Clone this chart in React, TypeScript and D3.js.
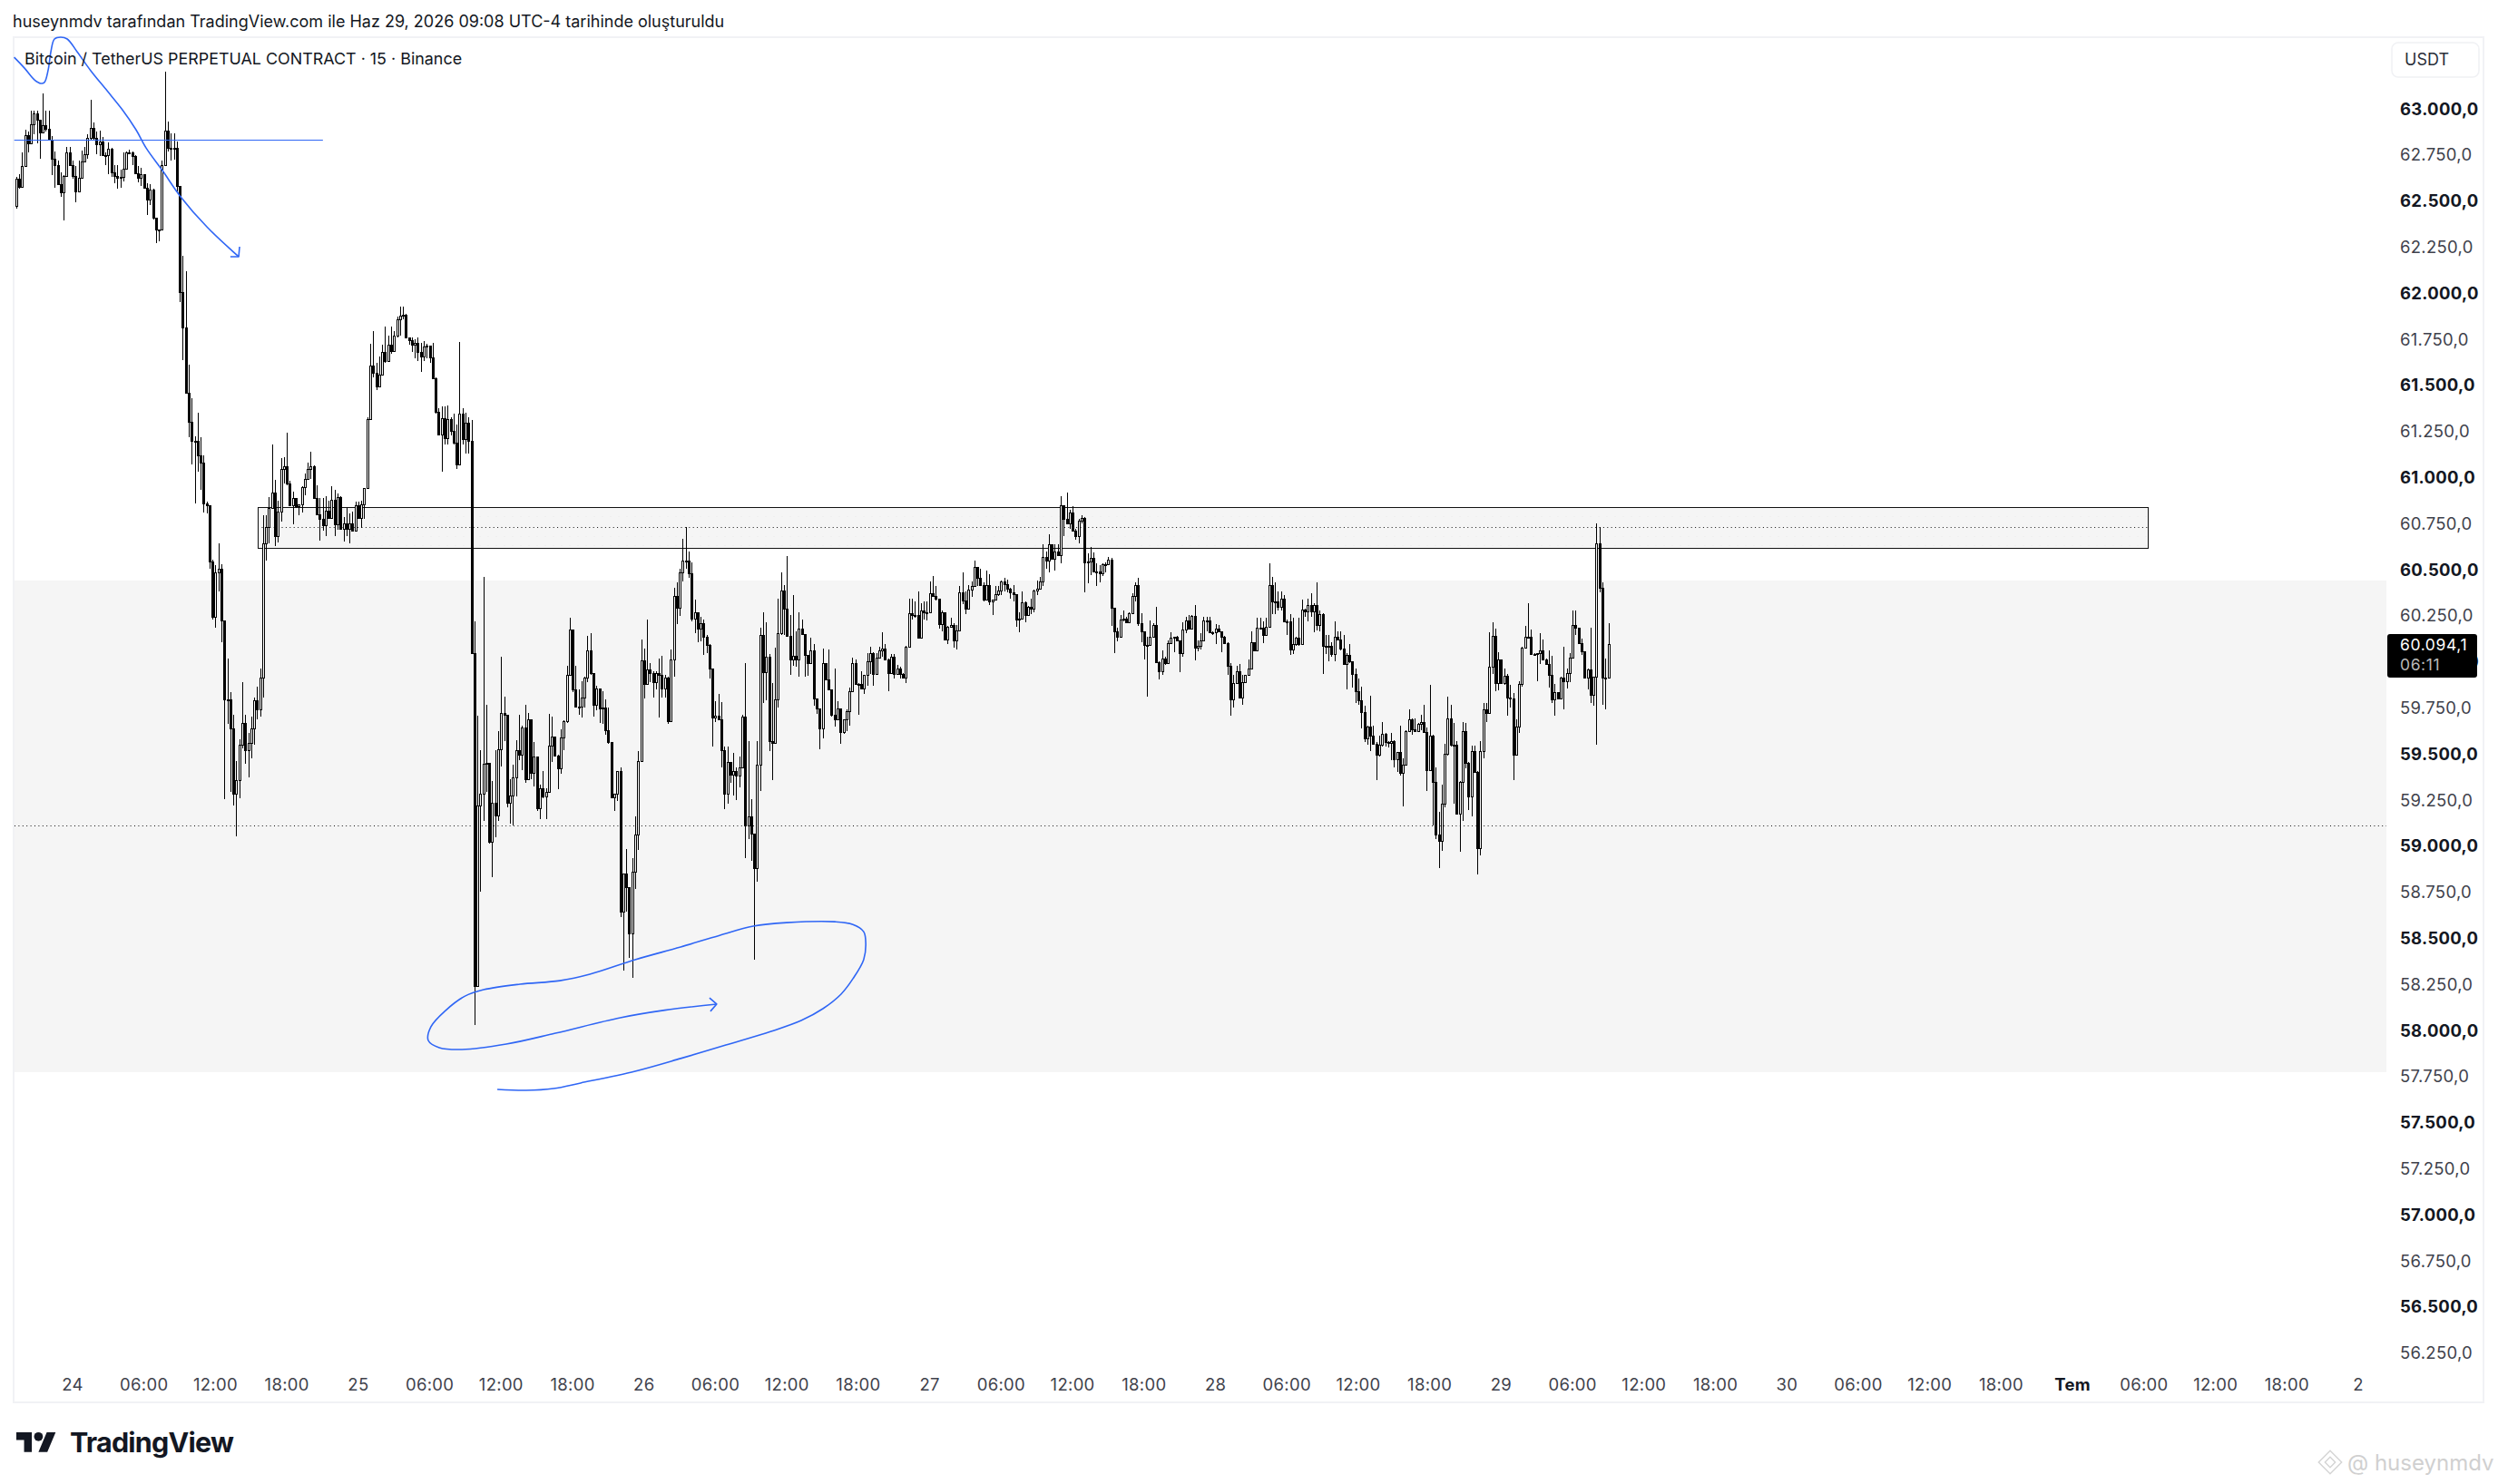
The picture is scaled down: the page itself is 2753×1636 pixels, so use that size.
import React, { useEffect, useRef } from "react";
import * as d3 from "d3";

// 15 minute BTCUSDT.P candles; open = previous close
const firstOpen = 62475;
const closes = [
  62623,62577,62689,62856,62812,62918,62976,62943,62874,62910,62894,62833,62730,62694,62590,62549,62636,62762,62697,62634,
  62554,62626,62713,62754,62841,62897,62844,62807,62823,62749,62749,62782,62656,62634,62626,62631,62675,62762,62766,62744,
  62651,62628,62644,62574,62508,62561,62407,62344,62344,62697,62880,62790,62784,62787,62580,62005,61816,61459,61300,61201,
  61201,61122,61081,60860,60849,60543,60244,60485,60507,60223,59798,59798,59638,59282,59356,59552,59670,59520,59559,59641,
  59793,59744,59916,60641,60733,60835,60917,60684,60813,61048,61061,60966,60848,60887,60843,60854,60946,60991,61045,61061,
  60887,60802,60777,60740,60818,60782,60881,60745,60892,60723,60753,60720,60753,60710,60848,60782,60856,60941,61317,61607,
  61568,61494,61558,61681,61632,61720,61686,61770,61858,61878,61883,61760,61745,61720,61730,61681,61657,61711,61716,61652,
  61538,61356,61233,61322,61214,61317,61253,61189,61071,61346,61209,61297,61199,60047,58241,59220,59282,59449,59453,59023,
  59233,59166,59528,59720,59712,59236,59274,59371,59523,59494,59646,59364,59687,59397,59486,59208,59313,59269,59294,59545,
  59594,59490,59422,59589,59677,59928,60176,59848,59756,59756,59805,59912,60061,59941,59766,59854,59745,59753,59627,59564,
  59264,59282,59408,58643,58851,58780,58526,58859,59061,59461,60007,59879,59958,59941,59892,59941,59930,59854,59913,59676,
  60012,60356,60291,60483,60551,60551,60480,60232,60269,60179,60209,60135,60092,59966,59700,59709,59690,59523,59282,59458,
  59387,59408,59381,59425,59704,59110,59159,59067,58880,59444,60146,59946,60028,59569,59561,59794,60155,60389,60286,60143,
  60015,60032,60012,60182,60150,60035,59991,60061,59799,59745,59641,59991,59905,59848,59712,59690,59745,59617,59687,59733,
  59843,59991,59879,59879,59854,59928,60002,60045,59933,60023,60064,60073,60012,59941,60027,59936,59966,59936,59913,60081,
  60266,60253,60253,60133,60278,60269,60269,60371,60356,60343,60207,60269,60122,60192,60199,60114,60168,60376,60335,60286,
  60392,60412,60515,60455,60417,60340,60417,60327,60338,60368,60387,60438,60422,60396,60379,60368,60228,60232,60324,60256,
  60299,60286,60387,60396,60437,60568,60547,60638,60561,60597,60581,60847,60778,60753,60811,60712,60684,60765,60781,60537,
  60543,60565,60488,60488,60478,60529,60529,60556,60291,60163,60138,60228,60232,60217,60264,60356,60414,60212,60166,60092,
  60092,60138,60199,59999,59950,60020,59991,60100,60133,60138,60117,60045,60176,60225,60182,60248,60078,60089,60117,60225,
  60225,60160,60160,60182,60163,60138,60100,59979,59794,59884,59950,59805,59892,59930,59963,60105,60064,60184,60184,60146,
  60189,60417,60330,60330,60297,60342,60220,60220,60069,60094,60130,60094,60282,60273,60307,60273,60309,60202,60261,60089,
  60089,60089,60040,60138,60119,60073,59986,60036,60002,59933,59843,59790,59728,59584,59649,59597,59556,59495,59548,59608,
  59567,59559,59572,59469,59510,59400,59441,59626,59687,59635,59626,59662,59671,59621,59411,59600,59348,59064,59031,59228,
  59502,59692,59548,59548,59174,59348,59626,59454,59269,59515,59405,58987,59515,59741,59720,59971,60143,59884,60012,59887,
  59922,59805,59802,59495,59651,59879,60076,60138,60138,60040,60040,60046,60064,60015,59990,59928,59794,59835,59799,59912,
  59897,59938,60023,60199,60184,60100,60056,59912,59958,59823,59917,60641,60404,59913,59913,60094.1,
];
const highs = [
  62631,62648,62762,62885,62877,62992,62992,62992,62943,63082,62992,62992,62853,62771,62721,62656,62639,62795,62795,62721,
  62689,62718,62774,62795,62861,63049,62926,62877,62882,62849,62762,62816,62787,62697,62697,62672,62762,62767,62779,62771,
  62751,62689,62680,62648,62598,62590,62566,62407,62344,62721,63202,62930,62869,62869,62823,62580,62205,62118,61614,61429,
  61221,61352,61218,61122,60868,60848,60556,60523,60643,60531,60223,60018,59834,59711,59460,59580,59888,59711,59613,59703,
  59805,59867,59966,60794,60794,60892,61179,60986,60876,61105,61110,61245,60982,60925,60887,60854,60953,61023,61081,61138,
  61068,60958,60887,60887,60900,60876,60953,60933,60914,60900,60786,60835,60805,60815,60871,60868,60876,60941,61325,61725,
  61794,61622,61657,61720,61819,61770,61819,61794,61873,61927,61927,61888,61760,61760,61750,61760,61730,61740,61725,61711,
  61730,61543,61376,61386,61386,61391,61327,61346,61288,61735,61376,61351,61327,61312,60220,59709,59523,60461,59766,59449,
  59351,59520,59622,60028,59810,59712,59362,59441,59577,59712,59654,59766,59720,59687,59564,59486,59335,59408,59313,59717,
  59704,59594,59495,59633,59682,59977,60240,60176,59977,59851,59897,59920,60141,60155,59941,59868,59854,59843,59794,59753,
  59564,59285,59408,59428,58851,58985,58780,58936,59162,59515,60122,60073,60228,59991,59950,59950,60018,60032,59930,59917,
  60068,60401,60433,60507,60669,60731,60599,60540,60340,60269,60245,60228,60146,60097,59966,59786,59825,59782,59540,59540,
  59458,59507,59425,59487,59712,59994,59569,59256,59067,59569,60187,60269,60215,60040,59884,60076,60343,60486,60417,60574,
  60253,60363,60166,60269,60228,60150,60035,60133,60094,59802,59748,60073,59991,60068,59851,59963,59786,59748,59687,59740,
  59859,60023,60015,59884,59950,59930,60048,60081,60051,60048,60081,60160,60094,60018,60040,60040,59982,59974,59941,60089,
  60343,60343,60327,60384,60319,60327,60327,60437,60466,60409,60343,60278,60269,60196,60240,60212,60199,60412,60486,60384,
  60417,60438,60548,60515,60504,60433,60494,60474,60338,60409,60412,60442,60458,60445,60401,60417,60368,60269,60384,60327,
  60302,60343,60392,60442,60461,60638,60597,60691,60638,60638,60638,60898,60847,60917,60827,60843,60720,60778,60794,60786,
  60589,60622,60592,60532,60527,60532,60537,60568,60565,60294,60187,60256,60278,60245,60269,60373,60433,60458,60264,60166,
  60138,60225,60212,60299,60002,60064,60028,60117,60160,60138,60143,60117,60215,60245,60253,60253,60309,60114,60155,60245,
  60245,60245,60163,60204,60199,60166,60143,60105,59991,59930,59979,59989,59930,59930,60012,60163,60105,60240,60237,60220,
  60237,60535,60461,60433,60384,60384,60363,60228,60261,60237,60138,60237,60338,60289,60343,60371,60319,60432,60278,60264,
  60146,60146,60105,60220,60166,60163,60146,60048,60097,60002,59966,59908,59867,59761,59654,59815,59654,59564,59597,59674,
  59613,59572,59613,59575,59510,59654,59474,59630,59741,59692,59695,59667,59712,59766,59646,59874,59605,59428,59187,59334,
  59553,59810,59766,59667,59569,59351,59671,59667,59457,59543,59546,59408,59572,59777,59777,60159,60215,60179,60053,60015,
  59966,59933,59876,59831,59687,59897,60081,60195,60318,60174,60048,60048,60154,60122,60018,60061,60031,59879,59835,59920,
  60081,59966,60045,60277,60277,60187,60127,60056,59966,60184,59920,60750,60733,60430,60018,60210,
];
const lows = [
  62459,62566,62577,62689,62762,62812,62861,62812,62730,62874,62877,62828,62639,62571,62587,62521,62397,62631,62697,62623,
  62495,62554,62626,62708,62730,62828,62828,62754,62746,62743,62697,62648,62631,62598,62566,62571,62607,62672,62754,62697,
  62648,62603,62582,62574,62423,62480,62402,62270,62282,62344,62697,62771,62718,62725,62541,61951,61639,61459,61218,61073,
  60860,61032,60934,60811,60803,60507,60228,60184,60384,60105,59255,59662,59293,59219,59055,59260,59531,59449,59375,59477,
  59551,59687,59703,59805,60551,60641,60835,60630,60646,60761,60966,60958,60843,60745,60835,60794,60810,60904,60991,60991,
  60884,60802,60658,60712,60684,60777,60777,60684,60717,60720,60654,60684,60645,60710,60707,60782,60728,60777,60936,61317,
  61543,61474,61494,61558,61622,61632,61671,61686,61760,61770,61858,61760,61720,61681,61647,61632,61573,61632,61647,61622,
  61538,61346,61228,61032,61179,61179,61228,61179,61046,61066,61179,61130,61130,60047,58031,58241,58752,59138,59294,59015,
  58831,59048,59138,59433,59572,59212,59121,59113,59269,59466,59412,59343,59362,59362,59326,59192,59149,59261,59149,59290,
  59458,59490,59307,59392,59523,59668,59925,59838,59753,59712,59700,59753,59892,59930,59704,59736,59666,59663,59602,59556,
  59261,59192,59244,58613,58323,58646,58395,58283,58766,58979,59458,59802,59876,59892,59805,59848,59700,59805,59805,59663,
  59679,59920,60204,60248,60436,60505,60456,60220,60155,60105,60110,60035,60048,59909,59540,59671,59687,59425,59203,59228,
  59343,59277,59248,59318,59425,58936,59039,58920,58383,58805,59297,59777,59789,59515,59356,59559,59753,60146,60146,60138,
  59930,59979,59974,59920,60146,59917,59925,59986,59761,59717,59526,59586,59900,59848,59704,59651,59690,59553,59610,59622,
  59654,59835,59876,59712,59851,59827,59868,59933,59868,59930,60023,60027,60007,59843,59941,59909,59933,59909,59909,59884,
  60081,60228,60237,60127,60133,60228,60225,60269,60356,60335,60182,60163,60122,60097,60187,60077,60069,60168,60315,60261,
  60282,60351,60412,60412,60412,60330,60335,60310,60256,60335,60356,60363,60384,60376,60343,60327,60191,60158,60228,60215,
  60253,60261,60269,60360,60392,60412,60507,60483,60556,60496,60576,60535,60684,60753,60720,60707,60663,60643,60750,60379,
  60428,60471,60488,60412,60433,60466,60483,60527,60196,60045,60109,60138,60220,60217,60217,60264,60327,60196,60105,60012,
  59813,60089,60138,59996,59905,59930,59982,59986,60094,60051,60114,59945,60028,60155,60179,60182,60010,60056,60068,60114,
  60163,60155,60146,60097,60158,60053,60097,59930,59710,59753,59884,59805,59769,59887,59925,59963,60064,60064,60179,60100,
  60146,60187,60261,60261,60281,60281,60220,60146,60035,60040,60089,60089,60094,60245,60220,60245,60158,60171,60163,59933,
  60040,60004,60028,60002,60119,60064,59982,59848,59995,59859,59777,59769,59638,59564,59548,59518,59556,59359,59487,59539,
  59539,59535,59466,59425,59405,59384,59216,59441,59626,59602,59621,59626,59630,59621,59297,59408,59110,59036,58883,58974,
  59211,59493,59539,59231,59170,58970,59138,59421,59198,59162,59400,58846,58949,59474,59674,59720,59936,59843,59846,59884,
  59876,59707,59753,59356,59493,59613,59867,60072,60130,60036,60035,59897,59987,60015,59990,59862,59777,59710,59799,59799,
  59744,59854,59892,60020,60146,60097,60035,59912,59848,59777,59764,59548,60379,59769,59744,59913,
];

// axes
const priceTicks = d3.range(63000, 56249, -250);
const timeLabels = [
  "24","06:00","12:00","18:00","25","06:00","12:00","18:00","26","06:00","12:00","18:00",
  "27","06:00","12:00","18:00","28","06:00","12:00","18:00","29","06:00","12:00","18:00",
  "30","06:00","12:00","18:00","Tem","06:00","12:00","18:00","2",
];
const BARS_PER_LABEL = 24;
const FIRST_LABEL_BAR = 19;

// drawings, as [bar index, price]
const supportZone = { top: 60441, bottom: 57774, mid: 59112 };
const resistanceBox = { top: 60840, bottom: 60618, mid: 60731, fromBar: 81.2, toBar: 716.3 };
const hLine = { price: 62833, fromBar: -0.6, toBar: 103.1 };
const downStroke: [number, number][] = [
  [-0.64,63280],[2.84,63221],[6.2,63157],[8.3,63138],[9.5,63143],[10.8,63212],[11.7,63310],[12.9,63379],
  [15,63389],[17.2,63379],[20.5,63310],[25.1,63207],[30.6,63098],[35.5,63000],[40.3,62887],[43.7,62788],
  [49.2,62665],[55.3,62523],[64.1,62360],[74.8,62198],
];
const downHead: [number, number][] = [[75.1,62252],[74.8,62198],[72,62198]];
const loopStroke: [number, number][] = [
  [161.7,57680],[171.4,57675],[180.6,57685],[189.7,57715],[208,57779],[223.3,57848],[238.5,57921],[253.7,57995],
  [263.8,58054],[271.1,58118],[277.2,58197],[281.2,58281],[284.8,58384],[285.5,58472],[284.8,58536],[281.2,58575],
  [275.1,58590],[258.9,58585],[247.7,58566],[236.4,58516],[223.3,58453],[208,58384],[192.8,58305],[182.7,58270],
  [169.3,58251],[157.1,58221],[150.7,58185],[144.3,58108],[139.4,58020],[138.5,57946],[142.2,57907],[149.8,57897],
  [164.7,57926],[181.2,57985],[203,58069],[218,58110],[235.4,58143],
];
const loopHead: [number, number][] = [[233,58177],[235.4,58143],[233.3,58104]];

const UI_FONT = "Inter, 'Noto Sans', sans-serif";
const snap = (v: number) => Math.round(v) + 0.5;

function drawChart(svgEl: SVGSVGElement) {
  const svg = d3.select(svgEl);
  svg.selectAll("*").remove();

  const plot = { left: 16, right: 2630, top: 42, bottom: 1545 };
  const x = d3.scaleLinear().domain([0, 535]).range([17.7, 17.7 + 3.28 * 535]);
  const y = d3.scaleLinear().domain([63000, 56250]).range([120, 1491.6]);
  const fmt = d3.formatLocale({ decimal: ",", thousands: ".", grouping: [3], currency: ["", ""] }).format(",.1f");

  svg.append("rect").attr("width", 2753).attr("height", 1636).attr("fill", "#ffffff");

  svg
    .append("defs")
    .append("clipPath")
    .attr("id", "plot-clip")
    .append("rect")
    .attr("x", plot.left - 2)
    .attr("y", plot.top - 2)
    .attr("width", plot.right - plot.left + 2)
    .attr("height", plot.bottom - plot.top);

  // frame
  svg
    .append("rect")
    .attr("x", 15)
    .attr("y", 41)
    .attr("width", 2722)
    .attr("height", 1505)
    .attr("fill", "none")
    .attr("stroke", "#f1f2f5")
    .attr("stroke-width", 2);

  const content = svg.append("g").attr("clip-path", "url(#plot-clip)");

  // grey zone
  content
    .append("rect")
    .attr("x", plot.left)
    .attr("y", y(supportZone.top))
    .attr("width", plot.right - plot.left)
    .attr("height", y(supportZone.bottom) - y(supportZone.top))
    .attr("fill", "#f5f5f5");

  // box
  const boxX0 = snap(x(resistanceBox.fromBar));
  const boxX1 = snap(x(resistanceBox.toBar));
  const boxY0 = snap(y(resistanceBox.top));
  const boxY1 = snap(y(resistanceBox.bottom));
  content
    .append("rect")
    .attr("x", boxX0)
    .attr("y", boxY0)
    .attr("width", boxX1 - boxX0)
    .attr("height", boxY1 - boxY0)
    .attr("fill", "#f5f5f5");

  // faint rows inside the box
  [60790, 60680, 60635].forEach((p) => {
    content
      .append("line")
      .attr("x1", boxX0 + 100)
      .attr("x2", boxX1)
      .attr("y1", snap(y(p)))
      .attr("y2", snap(y(p)))
      .attr("stroke", "#e9e9e9")
      .attr("stroke-dasharray", "1 8");
  });

  // dotted mid lines
  [
    { p: supportZone.mid, x0: plot.left, x1: plot.right },
    { p: resistanceBox.mid, x0: boxX0 + 4, x1: boxX1 },
  ].forEach((l) => {
    content
      .append("line")
      .attr("x1", l.x0)
      .attr("x2", l.x1)
      .attr("y1", snap(y(l.p)))
      .attr("y2", snap(y(l.p)))
      .attr("stroke", "#111111")
      .attr("stroke-width", 1)
      .attr("stroke-dasharray", "1 3.4");
  });

  // box outline
  content
    .append("rect")
    .attr("x", boxX0)
    .attr("y", boxY0)
    .attr("width", boxX1 - boxX0)
    .attr("height", boxY1 - boxY0)
    .attr("fill", "none")
    .attr("stroke", "#111111")
    .attr("stroke-width", 1);

  // candles
  const bars = closes.map((close, i) => {
    const open = i === 0 ? firstOpen : closes[i - 1];
    return {
      i,
      open,
      close,
      high: Math.max(highs[i], open, close),
      low: Math.min(lows[i], open, close),
    };
  });

  const candles = content.append("g");
  candles
    .selectAll("line")
    .data(bars)
    .enter()
    .append("line")
    .attr("x1", (d) => snap(x(d.i)))
    .attr("x2", (d) => snap(x(d.i)))
    .attr("y1", (d) => Math.round(y(d.high)))
    .attr("y2", (d) => Math.round(y(d.low)))
    .attr("stroke", "#000000")
    .attr("stroke-width", 1);

  candles
    .selectAll("rect")
    .data(bars)
    .enter()
    .append("rect")
    .attr("x", (d) => snap(x(d.i)) - 1)
    .attr("y", (d) => snap(y(Math.max(d.open, d.close))))
    .attr("width", 2)
    .attr("height", (d) =>
      Math.max(1, snap(y(Math.min(d.open, d.close))) - snap(y(Math.max(d.open, d.close))))
    )
    .attr("fill", (d) => (d.close >= d.open ? "#ffffff" : "#000000"))
    .attr("stroke", "#000000")
    .attr("stroke-width", 1);

  // blue drawings
  const BLUE = "#2f66f5";
  const curve = d3
    .line<[number, number]>()
    .x((d) => x(d[0]))
    .y((d) => y(d[1]))
    .curve(d3.curveCatmullRom.alpha(0.5));
  const straight = d3
    .line<[number, number]>()
    .x((d) => x(d[0]))
    .y((d) => y(d[1]));
  [curve(downStroke), straight(downHead), curve(loopStroke), straight(loopHead)].forEach((d) => {
    content
      .append("path")
      .attr("d", d as string)
      .attr("fill", "none")
      .attr("stroke", BLUE)
      .attr("stroke-width", 1.6)
      .attr("stroke-linejoin", "round");
  });
  content
    .append("line")
    .attr("x1", x(hLine.fromBar))
    .attr("x2", x(hLine.toBar))
    .attr("y1", snap(y(hLine.price)))
    .attr("y2", snap(y(hLine.price)))
    .attr("stroke", BLUE)
    .attr("stroke-width", 1);

  // price axis
  svg
    .append("g")
    .selectAll("text")
    .data(priceTicks)
    .enter()
    .append("text")
    .attr("x", 2645)
    .attr("y", (d) => y(d))
    .attr("dy", "0.36em")
    .attr("font-family", UI_FONT)
    .attr("font-size", 18.5)
    .attr("letter-spacing", 0.3)
    .attr("font-weight", (d) => (d % 500 === 0 ? 700 : 400))
    .attr("fill", (d) => (d % 500 === 0 ? "#131722" : "#3f424c"))
    .text((d) => fmt(d));

  // time axis
  svg
    .append("g")
    .selectAll("text")
    .data(timeLabels)
    .enter()
    .append("text")
    .attr("x", (_, i) => x(FIRST_LABEL_BAR + i * BARS_PER_LABEL))
    .attr("y", 1526)
    .attr("dy", "0.36em")
    .attr("text-anchor", "middle")
    .attr("font-family", UI_FONT)
    .attr("font-size", 18.5)
    .attr("letter-spacing", 0.3)
    .attr("font-weight", (d) => (d === "Tem" ? 700 : 400))
    .attr("fill", (d) => (d === "Tem" ? "#131722" : "#3f424c"))
    .text((d) => d);

  // last price tag
  const tag = svg.append("g");
  tag
    .append("rect")
    .attr("x", 2631)
    .attr("y", 699)
    .attr("width", 99)
    .attr("height", 48)
    .attr("rx", 3)
    .attr("fill", "#000000");
  tag
    .append("text")
    .attr("x", 2645)
    .attr("y", 711)
    .attr("dy", "0.36em")
    .attr("font-family", UI_FONT)
    .attr("font-size", 17.5)
    .attr("letter-spacing", 0.6)
    .attr("fill", "#ffffff")
    .text(fmt(closes[closes.length - 1]));
  tag
    .append("text")
    .attr("x", 2645)
    .attr("y", 733)
    .attr("dy", "0.36em")
    .attr("font-family", UI_FONT)
    .attr("font-size", 17.5)
    .attr("letter-spacing", 0.6)
    .attr("fill", "#b8b8b8")
    .text("06:11");

  // USDT button
  svg
    .append("rect")
    .attr("x", 2636)
    .attr("y", 47)
    .attr("width", 96)
    .attr("height", 38)
    .attr("rx", 7)
    .attr("fill", "#ffffff")
    .attr("stroke", "#f0f1f4")
    .attr("stroke-width", 1.5);
  svg
    .append("text")
    .attr("x", 2650)
    .attr("y", 66)
    .attr("dy", "0.36em")
    .attr("font-family", UI_FONT)
    .attr("font-size", 18)
    .attr("fill", "#2a2e39")
    .text("USDT");

  // header and legend
  svg
    .append("text")
    .attr("x", 14)
    .attr("y", 24)
    .attr("dy", "0.36em")
    .attr("font-family", UI_FONT)
    .attr("font-size", 18)
    .attr("fill", "#131722")
    .text("huseynmdv tarafından TradingView.com ile Haz 29, 2026 09:08 UTC-4 tarihinde oluşturuldu");
  svg
    .append("text")
    .attr("x", 27)
    .attr("y", 65)
    .attr("dy", "0.36em")
    .attr("font-family", UI_FONT)
    .attr("font-size", 17.9)
    .attr("fill", "#131722")
    .text("Bitcoin / TetherUS PERPETUAL CONTRACT · 15 · Binance");

  // TradingView logo
  const logo = svg.append("g").attr("transform", "translate(18,1574) scale(1.22)").attr("fill", "#131722");
  logo.append("path").attr("d", "M14 22H7V11H0V4h14v18zM28 22h-8l7.5-18h8L28 22z");
  logo.append("circle").attr("cx", 20).attr("cy", 8).attr("r", 4);
  svg
    .append("text")
    .attr("x", 77)
    .attr("y", 1590)
    .attr("dy", "0.36em")
    .attr("font-family", UI_FONT)
    .attr("font-size", 30.5)
    .attr("font-weight", 700)
    .attr("letter-spacing", -0.8)
    .attr("fill", "#131722")
    .text("TradingView");

  // watermark
  const mark = svg.append("g").attr("fill", "none").attr("stroke", "#d4d4d4").attr("stroke-width", 1.4);
  mark.append("rect").attr("x", -9).attr("y", -9).attr("width", 18).attr("height", 18).attr("transform", "translate(2568,1612) rotate(45)");
  mark.append("rect").attr("x", -4).attr("y", -4).attr("width", 8).attr("height", 8).attr("transform", "translate(2568,1612) rotate(45)");
  svg
    .append("text")
    .attr("x", 2587)
    .attr("y", 1612)
    .attr("dy", "0.36em")
    .attr("font-family", UI_FONT)
    .attr("font-size", 24)
    .attr("fill", "#d0d0d0")
    .text("@ huseynmdv");
}

const App: React.FunctionComponent = function () {
  const svgRef = useRef<SVGSVGElement>(null);

  useEffect(() => {
    if (svgRef.current == null) {
      return;
    }
    drawChart(svgRef.current);
  }, []);

  return (
    <svg
      ref={svgRef}
      width={2753}
      height={1636}
      style={{ position: "absolute", left: 0, top: 0, display: "block" }}
    />
  );
};

export default App;
